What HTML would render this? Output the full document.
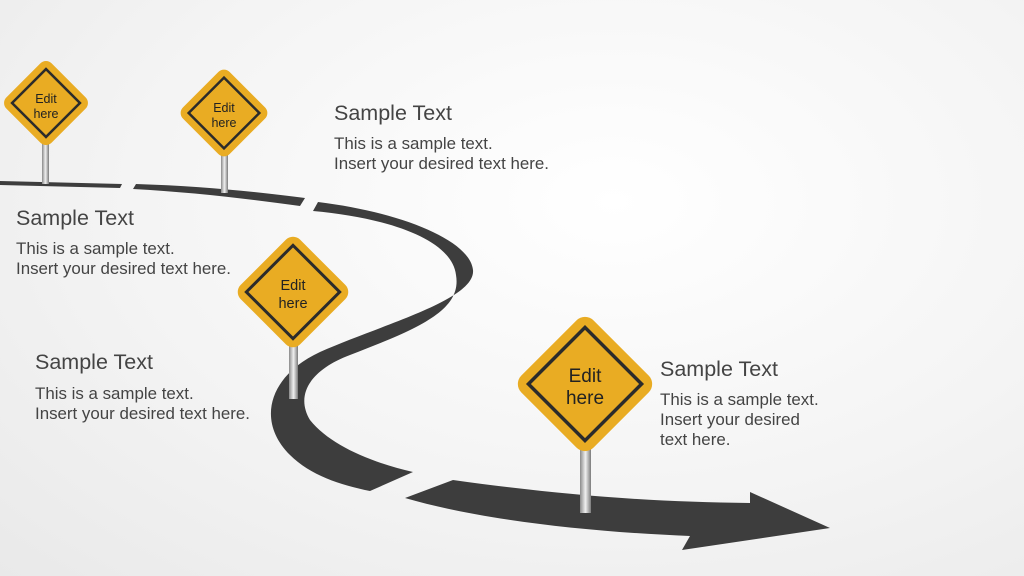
<!DOCTYPE html>
<html><head><style>
body{margin:0;width:1024px;height:576px;overflow:hidden;background:radial-gradient(ellipse at 60% 35%,#ffffff 0%,#f4f4f4 55%,#e9e9e9 100%);font-family:"Liberation Sans",sans-serif;}
svg{position:absolute;left:0;top:0}
</style></head><body>
<svg width="1024" height="576" viewBox="0 0 1024 576">
<defs>
<linearGradient id="pole" x1="0" x2="1"><stop offset="0" stop-color="#8a8a8a"/><stop offset="0.5" stop-color="#f0f0f0"/><stop offset="1" stop-color="#7a7a7a"/></linearGradient>
</defs>
<g fill="#3d3d3d">
<path d="M0,181 L122,184 L120,188 L0,185 Z"/>
<path d="M136,184 C200,186 260,192 305,198 L300,206 C250,199 190,192 133,189 Z"/>
<path d="M318,202 C400,212 470,240 473,270 C476,300 380,325 320,352 C270,375 255,420 290,455 C310,475 340,485 370,491 L413,472 C370,462 330,445 310,420 C295,395 310,370 350,355 C420,328 462,310 456,275 C452,240 390,218 313,211 Z"/>
<path d="M405,498 L453,480 C560,495 650,502 750,503 L750,492 L830,528 L682,550 L690,536 C590,532 480,520 405,498 Z"/>
</g>
<g fill="url(#pole)">
<rect x="42" y="140" width="7" height="44"/>
<rect x="221" y="148" width="7" height="45"/>
<rect x="289" y="342" width="9" height="57"/>
<rect x="580" y="440" width="11" height="73"/>
</g>
<g fill="#e9ac23" stroke="#2b2b2b">
<g transform="translate(46,103) rotate(45)"><rect x="-32" y="-32" width="64" height="64" rx="8" stroke="none"/><rect x="-24" y="-24" width="48" height="48" fill="none" stroke-width="2.5"/></g>
<g transform="translate(224,113) rotate(45)"><rect x="-33" y="-33" width="66" height="66" rx="8" stroke="none"/><rect x="-25" y="-25" width="50" height="50" fill="none" stroke-width="2.5"/></g>
<g transform="translate(293,292) rotate(45)"><rect x="-42" y="-42" width="84" height="84" rx="10" stroke="none"/><rect x="-33" y="-33" width="66" height="66" fill="none" stroke-width="3"/></g>
<g transform="translate(585,384) rotate(45)"><rect x="-51" y="-51" width="102" height="102" rx="12" stroke="none"/><rect x="-40" y="-40" width="80" height="80" fill="none" stroke-width="3.5"/></g>
</g>
<g fill="#222" text-anchor="middle" font-family="Liberation Sans, sans-serif">
<text x="46" y="103" font-size="12.5">Edit</text><text x="46" y="118" font-size="12.5">here</text>
<text x="224" y="112" font-size="12.5">Edit</text><text x="224" y="127" font-size="12.5">here</text>
<text x="293" y="290" font-size="14.5">Edit</text><text x="293" y="308" font-size="14.5">here</text>
<text x="585" y="382" font-size="19">Edit</text><text x="585" y="404" font-size="19">here</text>
</g>
<g fill="#444" font-family="Liberation Sans, sans-serif">
<text x="334" y="120" font-size="21.5">Sample Text</text>
<text x="334" y="149" font-size="16.9">This is a sample text.</text>
<text x="334" y="169" font-size="16.9">Insert your desired text here.</text>
<text x="16" y="225" font-size="21.5">Sample Text</text>
<text x="16" y="254" font-size="16.9">This is a sample text.</text>
<text x="16" y="274" font-size="16.9">Insert your desired text here.</text>
<text x="35" y="369" font-size="21.5">Sample Text</text>
<text x="35" y="399" font-size="16.9">This is a sample text.</text>
<text x="35" y="419" font-size="16.9">Insert your desired text here.</text>
<text x="660" y="376" font-size="21.5">Sample Text</text>
<text x="660" y="405" font-size="16.9">This is a sample text.</text>
<text x="660" y="425" font-size="16.9">Insert your desired</text>
<text x="660" y="445" font-size="16.9">text here.</text>
</g>
</svg>
</body></html>
